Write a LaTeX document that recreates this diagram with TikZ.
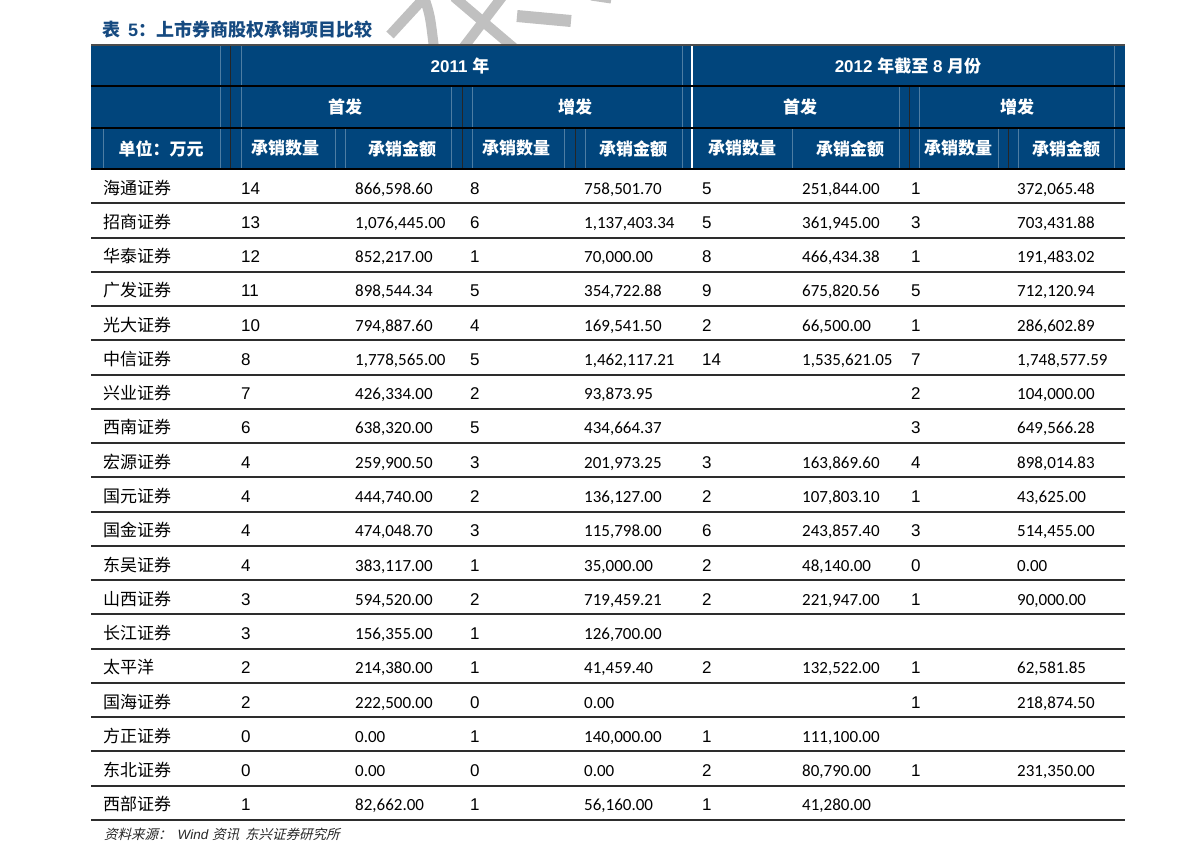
\documentclass[tikz,border=0pt]{standalone}
\usepackage{fontspec}
\setmainfont{Liberation Sans}
\newfontfamily\cjk{Noto Sans CJK SC}
\newfontfamily\cjksl{Noto Sans CJK SC}[FakeSlant=0.25]
\newfontfamily\calib{Carlito}
\definecolor{hdrblue}{RGB}{1,69,124}
\definecolor{ttlblue}{RGB}{22,74,128}
\definecolor{rulegray}{RGB}{45,45,45}
\definecolor{wmgray}{RGB}{192,192,192}
\newcommand\sz{\fontsize{17}{20}\selectfont}

\tikzset{
  cell/.style={anchor=base west, inner sep=0pt, font=\sz},
  hdr/.style={text=white, inner sep=0pt, font=\sz\bfseries},
  thinsep/.style={draw=hdrblue!70!white, line width=0.8pt},
  darksep/.style={draw=black!85, line width=1pt},
  rowrule/.style={draw=rulegray, line width=2pt}
}

\begin{document}
\begin{tikzpicture}[x=1pt, y=-1pt]
  \useasboundingbox (0,0) rectangle (1191,863);

  % watermark remains above the table
  \begin{scope}[wmgray, line width=10pt]
    \draw (390,35) -- (425,-3);
    \draw (424,-3) .. controls (430,15) .. (434,48);
    \draw (454,-3) -- (514,48);
    \draw (502,-3) -- (463,48);
    \draw[line width=12pt] (517,16) -- (571,21);
    \draw[line width=5pt] (591,-2) -- (611,1);
  \end{scope}

  % title
  \node[anchor=west, inner sep=0pt, text=ttlblue, font=\fontsize{18}{21}\selectfont\bfseries] (title) at (102,30)
    {{\cjk 表}\hspace{8pt}5{\cjk ：上市券商股权承销项目比较}};

  % header block
  \fill[hdrblue] (91,45) rectangle (1125,169);
  \foreach \x in {220,241,682,1114} \draw[thinsep] (\x,45) -- (\x,86);
  \foreach \x in {220,241,451,472,682,899,919,1114} \draw[thinsep] (\x,86) -- (\x,128);
  \foreach \x in {103,220,241,335,345,451,472,564,585,682,792,899,919,998,1018,1114}
    \draw[thinsep] (\x,128) -- (\x,169);
  \draw[darksep] (230,45) -- (230,169);
  \foreach \x in {462,909} \draw[darksep] (\x,86) -- (\x,169);
  \foreach \x in {575,1008} \draw[darksep] (\x,128) -- (\x,169);
  \draw[white, line width=2pt] (692,45) -- (692,169);
  \draw[black!70, line width=2pt] (91,45) -- (1125,45);
  \draw[black, line width=2pt] (91,86) -- (1125,86);
  \draw[black, line width=2.4pt] (91,128) -- (1125,128);
  \draw[black, line width=2pt] (91,169) -- (1125,169);

  \node[hdr] (y2011) at (460,66) {2011 {\cjk 年}};
  \node[hdr] (y2012) at (908,66) {2012 {\cjk 年截至} 8 {\cjk 月份}};
  \node[hdr] (ipoA) at (345,107) {\cjk 首发};
  \node[hdr] (addA) at (575,107) {\cjk 增发};
  \node[hdr] (ipoB) at (800,107) {\cjk 首发};
  \node[hdr] (addB) at (1017,107) {\cjk 增发};
  \node[hdr] (unit) at (161,148.5) {\cjk 单位：万元};
  \foreach \x/\t [count=\k] in {285/承销数量, 402/承销金额, 516/承销数量, 633/承销金额,
                                742/承销数量, 850/承销金额, 958/承销数量, 1066/承销金额}
    \node[hdr] (sub-\k) at (\x,148.5) {\cjk \t};

  % data rows
  \foreach \nm/\a/\b/\c/\d/\e/\f/\g/\h [count=\r] in {
      海通证券/14/{866,598.60}/8/{758,501.70}/5/{251,844.00}/1/{372,065.48},
      招商证券/13/{1,076,445.00}/6/{1,137,403.34}/5/{361,945.00}/3/{703,431.88},
      华泰证券/12/{852,217.00}/1/{70,000.00}/8/{466,434.38}/1/{191,483.02},
      广发证券/11/{898,544.34}/5/{354,722.88}/9/{675,820.56}/5/{712,120.94},
      光大证券/10/{794,887.60}/4/{169,541.50}/2/{66,500.00}/1/{286,602.89},
      中信证券/8/{1,778,565.00}/5/{1,462,117.21}/14/{1,535,621.05}/7/{1,748,577.59},
      兴业证券/7/{426,334.00}/2/{93,873.95}/{}/{}/2/{104,000.00},
      西南证券/6/{638,320.00}/5/{434,664.37}/{}/{}/3/{649,566.28},
      宏源证券/4/{259,900.50}/3/{201,973.25}/3/{163,869.60}/4/{898,014.83},
      国元证券/4/{444,740.00}/2/{136,127.00}/2/{107,803.10}/1/{43,625.00},
      国金证券/4/{474,048.70}/3/{115,798.00}/6/{243,857.40}/3/{514,455.00},
      东吴证券/4/{383,117.00}/1/{35,000.00}/2/{48,140.00}/0/{0.00},
      山西证券/3/{594,520.00}/2/{719,459.21}/2/{221,947.00}/1/{90,000.00},
      长江证券/3/{156,355.00}/1/{126,700.00}/{}/{}/{}/{},
      太平洋/2/{214,380.00}/1/{41,459.40}/2/{132,522.00}/1/{62,581.85},
      国海证券/2/{222,500.00}/0/{0.00}/{}/{}/1/{218,874.50},
      方正证券/0/{0.00}/1/{140,000.00}/1/{111,100.00}/{}/{},
      东北证券/0/{0.00}/0/{0.00}/2/{80,790.00}/1/{231,350.00},
      西部证券/1/{82,662.00}/1/{56,160.00}/1/{41,280.00}/{}/{}} {
    \pgfmathsetmacro\yb{169+34.26*(\r-0.5)+8}
    \pgfmathsetmacro\yr{169+34.26*\r}
    \node[cell] (nm-\r) at (103,\yb) {\cjk\nm};
    \node[cell] (a-\r) at (241,\yb) {\a};
    \node[cell] (b-\r) at (355,\yb) {\calib\b};
    \node[cell] (c-\r) at (470,\yb) {\c};
    \node[cell] (d-\r) at (584,\yb) {\calib\d};
    \node[cell] (e-\r) at (702,\yb) {\e};
    \node[cell] (f-\r) at (802,\yb) {\calib\f};
    \node[cell] (g-\r) at (911,\yb) {\g};
    \node[cell] (h-\r) at (1017,\yb) {\calib\h};
    \draw[rowrule] (91,\yr) -- (1125,\yr);
  }

  % source line
  \node[anchor=west, inner sep=0pt, text=black!85, font=\fontsize{13.5}{16}\selectfont] (src) at (104,834)
    {{\cjksl 资料来源：}\hspace{6pt}{\itshape Wind} {\cjksl 资讯}\hspace{6pt}{\cjksl 东兴证券研究所}};
\end{tikzpicture}
\end{document}
